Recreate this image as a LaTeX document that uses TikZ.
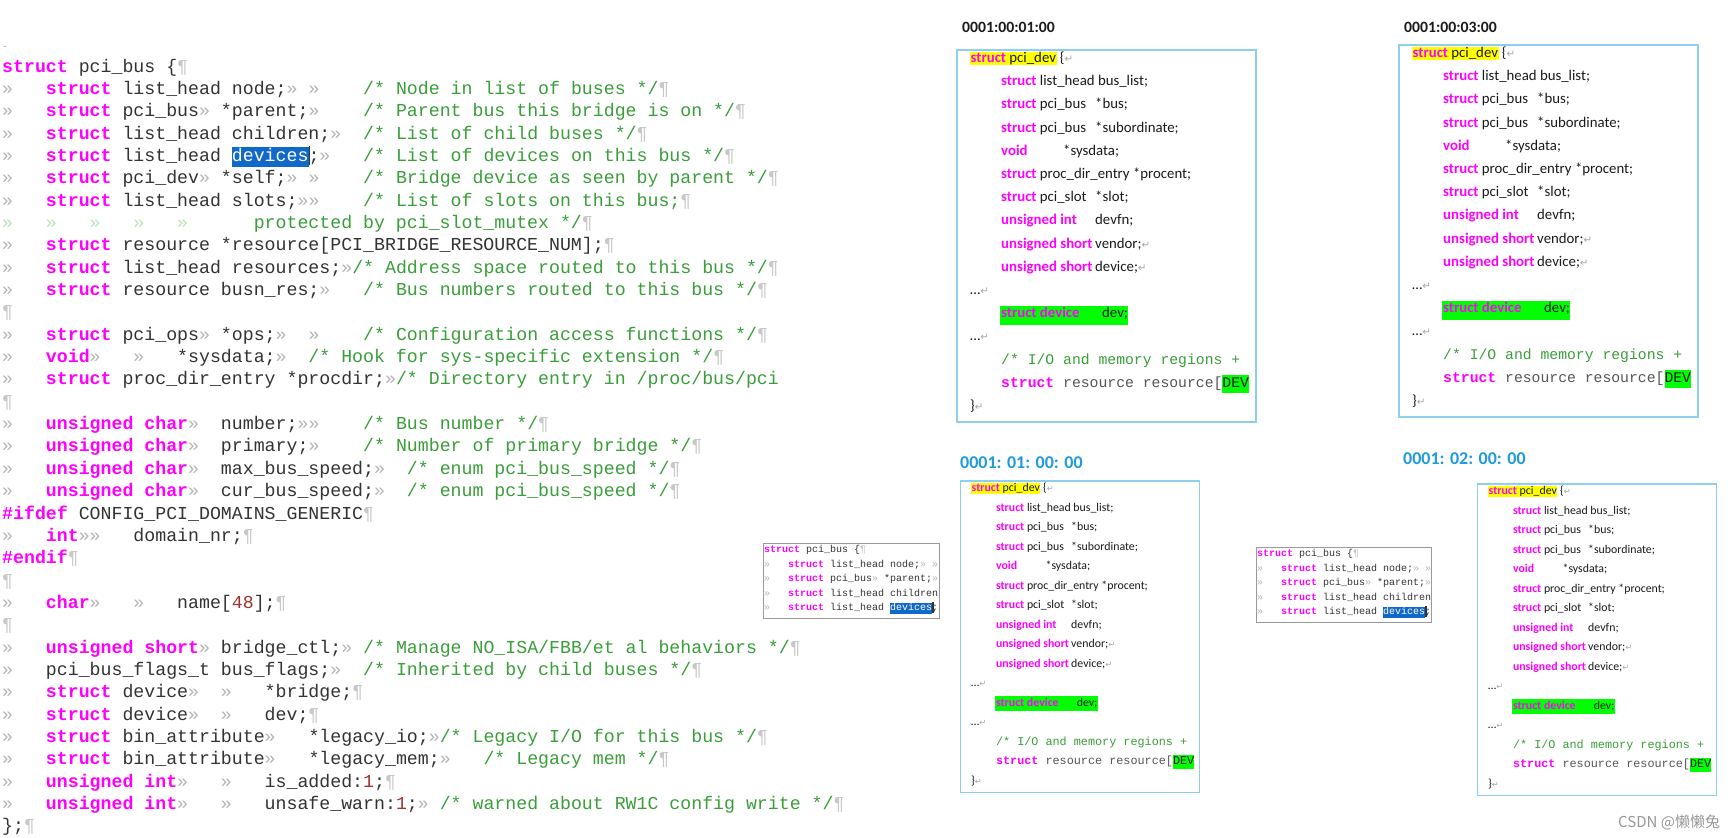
\documentclass[tikz,border=0pt]{standalone}
\usepackage{fontspec}
\setmainfont{Carlito}
\setmonofont{Liberation Mono}
\newfontfamily\cjk{Noto Sans CJK SC}
\newfontfamily\djv{DejaVu Sans}
\definecolor{kwc}{HTML}{FF00FF}
\definecolor{txt}{HTML}{333333}
\definecolor{cmc}{HTML}{3A9E3A}
\definecolor{tabc}{HTML}{B4B4B4}
\definecolor{pcc}{HTML}{C8C8C8}
\definecolor{ltab}{HTML}{B9E3B9}
\definecolor{selb}{HTML}{1068C8}
\definecolor{numc}{HTML}{A0322D}
\definecolor{boxb}{HTML}{8CD0F0}
\definecolor{sboxb}{HTML}{9A9A9A}
\definecolor{devg}{HTML}{00FF00}
\definecolor{hly}{HTML}{FFFF00}
\definecolor{lblue}{HTML}{1E9BDC}
\definecolor{retc}{HTML}{A8A8A8}
\definecolor{rsc}{HTML}{555555}
\definecolor{boxt}{HTML}{1A1A1A}
\newcommand\kw[1]{{\bfseries\color{kwc}#1}}
\newcommand\cm[1]{{\color{cmc}#1}}
\newcommand\tb{{\color{tabc}»}}
\newcommand\ltb{{\color{ltab}»}}
\newcommand\pc{{\color{pcc}¶}}
\newcommand\nm[1]{{\color{numc}#1}}
\newcommand\sps[1]{\hspace*{#1\dimexpr0.6em\relax}}
\newcommand\hlb[1]{{\setlength\fboxsep{0pt}\colorbox{selb}{\strut\color{white}#1}}\rlap{\rule[-0.22em]{1.5pt}{1.05em}}}
\newcommand\hly[1]{{\setlength\fboxsep{0.5pt}\colorbox{hly}{#1}}}
\newcommand\ret{{\djv\color{retc}\scalebox{0.7}{↵}}}
\newcommand\Lz{\kw{struct} pci\_bus \{\pc}
\newcommand\Lo{\tb\sps3\kw{struct} list\_head node;\tb\sps1\tb\sps4\cm{/* Node in list of buses */}\pc}
\newcommand\Lt{\tb\sps3\kw{struct} pci\_bus\tb\sps1*parent;\tb\sps4\cm{/* Parent bus this bridge is on */}\pc}
\newcommand\Lh{\tb\sps3\kw{struct} list\_head children;\tb\sps2\cm{/* List of child buses */}\pc}
\newcommand\Lf{\tb\sps3\kw{struct} list\_head \hlb{devices};\tb\sps3\cm{/* List of devices on this bus */}\pc}
\tikzset{
  codeline/.style={anchor=west, inner sep=0, text=txt, font=\fontsize{18.23}{20}\selectfont\ttfamily, text height=0.7em, text depth=0.2em},
  smline/.style={anchor=west, inner sep=0, text=txt, font=\fontsize{10}{11}\selectfont\ttfamily, text height=0.7em, text depth=0.2em},
  dl/.style={anchor=west, inner sep=0, text=boxt, font=\fontsize{\fs}{\fsb}\selectfont, text height=0.72em, text depth=0.22em},
  ml/.style={anchor=west, inner sep=0, text=boxt, font=\fontsize{\ms}{\msb}\selectfont\ttfamily, text height=0.72em, text depth=0.22em},
  boxline/.style={draw=boxb, line width=1.2pt},
  sbox/.style={draw=sboxb, line width=1pt},
  lbl/.style={anchor=west, inner sep=0, text=boxt, font=\fontsize{15.7}{18}\selectfont\bfseries},
  blbl/.style={anchor=west, inner sep=0, text=lblue, font=\fontsize{18}{21}\selectfont\bfseries},
}
\newcommand\cl[2]{\node[codeline] (cl#1) at (2,{69.5+22.35*#1}) {#2};}
\newcommand\pcidev[5]{%
  \pgfmathsetmacro\fs{14.8*#5}\pgfmathsetmacro\fsb{1.2*\fs}%
  \pgfmathsetmacro\ms{14.75*#5}\pgfmathsetmacro\msb{1.2*\ms}%
  \pgfmathsetmacro\xb{#2+31*#5}\pgfmathsetmacro\xc{#2+125*#5}%
  \pgfmathsetmacro\xd{#2+93*#5}\pgfmathsetmacro\xe{#2+132*#5}%
  \draw[boxline] ({#2-13*#5},{#3-10*#5}) rectangle ({#2+286*#5},{#3+15*#4+14*#5});
  \node[fill=devg, inner sep=0, minimum width={128*#5}, minimum height={19*#5}, anchor=west] (#1-g) at ({#2+30*#5},{#3+11*#4}) {};
  \node[dl] (#1-0) at (#2,{#3}) {\hly{\kw{struct} pci\_dev} \{\ret};
  \node[dl] (#1-1) at (\xb,{#3+#4}) {\kw{struct} list\_head bus\_list;};
  \node[dl] (#1-2) at (\xb,{#3+2*#4}) {\kw{struct} pci\_bus};
  \node[dl] (#1-2b) at (\xc,{#3+2*#4}) {*bus;};
  \node[dl] (#1-3) at (\xb,{#3+3*#4}) {\kw{struct} pci\_bus};
  \node[dl] (#1-3b) at (\xc,{#3+3*#4}) {*subordinate;};
  \node[dl] (#1-4) at (\xb,{#3+4*#4}) {\kw{void}};
  \node[dl] (#1-4b) at (\xd,{#3+4*#4}) {*sysdata;};
  \node[dl] (#1-5) at (\xb,{#3+5*#4}) {\kw{struct} proc\_dir\_entry *procent;};
  \node[dl] (#1-6) at (\xb,{#3+6*#4}) {\kw{struct} pci\_slot};
  \node[dl] (#1-6b) at (\xc,{#3+6*#4}) {*slot;};
  \node[dl] (#1-7) at (\xb,{#3+7*#4}) {\kw{unsigned int}};
  \node[dl] (#1-7b) at (\xc,{#3+7*#4}) {devfn;};
  \node[dl] (#1-8) at (\xb,{#3+8*#4}) {\kw{unsigned short}};
  \node[dl] (#1-8b) at (\xc,{#3+8*#4}) {vendor;\ret};
  \node[dl] (#1-9) at (\xb,{#3+9*#4}) {\kw{unsigned short}};
  \node[dl] (#1-9b) at (\xc,{#3+9*#4}) {device;\ret};
  \node[dl] (#1-10) at (#2,{#3+10*#4}) {…\ret};
  \node[dl] (#1-11) at (\xb,{#3+11*#4}) {\kw{struct device}};
  \node[dl] (#1-11b) at (\xe,{#3+11*#4}) {dev;};
  \node[dl] (#1-12) at (#2,{#3+12*#4}) {…\ret};
  \node[ml] (#1-13) at (\xb,{#3+13*#4}) {\cm{/* I/O and memory regions +}};
  \node[ml] (#1-14) at (\xb,{#3+14*#4}) {\kw{struct} {\color{rsc}resource resource[}{\setlength\fboxsep{0pt}\colorbox{devg}{\strut DEV}}};
  \node[dl] (#1-15) at (#2,{#3+15*#4}) {\}\ret};
}
\begin{document}
\begin{tikzpicture}[x=1pt,y=-1pt]
\useasboundingbox[fill=white] (0,0) rectangle (1733,838);
\node[anchor=west, inner sep=0, text=tabc, font=\fontsize{12}{12}\selectfont] (dash) at (3,49) {-};
\cl{0}{\Lz}
\cl{1}{\Lo}
\cl{2}{\Lt}
\cl{3}{\Lh}
\cl{4}{\Lf}
\cl{5}{\tb\sps3\kw{struct} pci\_dev\tb\sps1*self;\tb\sps1\tb\sps4\cm{/* Bridge device as seen by parent */}\pc}
\cl{6}{\tb\sps3\kw{struct} list\_head slots;\tb\tb\sps4\cm{/* List of slots on this bus;}\pc}
\cl{7}{\ltb\sps3\ltb\sps3\ltb\sps3\ltb\sps3\ltb\sps6\cm{protected by pci\_slot\_mutex */}\pc}
\cl{8}{\tb\sps3\kw{struct} resource *resource[PCI\_BRIDGE\_RESOURCE\_NUM];\pc}
\cl{9}{\tb\sps3\kw{struct} list\_head resources;\tb\cm{/* Address space routed to this bus */}\pc}
\cl{10}{\tb\sps3\kw{struct} resource busn\_res;\tb\sps3\cm{/* Bus numbers routed to this bus */}\pc}
\cl{11}{\pc}
\cl{12}{\tb\sps3\kw{struct} pci\_ops\tb\sps1*ops;\tb\sps2\tb\sps4\cm{/* Configuration access functions */}\pc}
\cl{13}{\tb\sps3\kw{void}\tb\sps3\tb\sps3*sysdata;\tb\sps2\cm{/* Hook for sys-specific extension */}\pc}
\cl{14}{\tb\sps3\kw{struct} proc\_dir\_entry *procdir;\tb\cm{/* Directory entry in /proc/bus/pci}}
\cl{15}{\pc}
\cl{16}{\tb\sps3\kw{unsigned char}\tb\sps2number;\tb\tb\sps4\cm{/* Bus number */}\pc}
\cl{17}{\tb\sps3\kw{unsigned char}\tb\sps2primary;\tb\sps4\cm{/* Number of primary bridge */}\pc}
\cl{18}{\tb\sps3\kw{unsigned char}\tb\sps2max\_bus\_speed;\tb\sps2\cm{/* enum pci\_bus\_speed */}\pc}
\cl{19}{\tb\sps3\kw{unsigned char}\tb\sps2cur\_bus\_speed;\tb\sps2\cm{/* enum pci\_bus\_speed */}\pc}
\cl{20}{\kw{\#ifdef} CONFIG\_PCI\_DOMAINS\_GENERIC\pc}
\cl{21}{\tb\sps3\kw{int}\tb\tb\sps3domain\_nr;\pc}
\cl{22}{\kw{\#endif}\pc}
\cl{23}{\pc}
\cl{24}{\tb\sps3\kw{char}\tb\sps3\tb\sps3name[\nm{48}];\pc}
\cl{25}{\pc}
\cl{26}{\tb\sps3\kw{unsigned short}\tb\sps1bridge\_ctl;\tb\sps1\cm{/* Manage NO\_ISA/FBB/et al behaviors */}\pc}
\cl{27}{\tb\sps3pci\_bus\_flags\_t bus\_flags;\tb\sps2\cm{/* Inherited by child buses */}\pc}
\cl{28}{\tb\sps3\kw{struct} device\tb\sps2\tb\sps3*bridge;\pc}
\cl{29}{\tb\sps3\kw{struct} device\tb\sps2\tb\sps3dev;\pc}
\cl{30}{\tb\sps3\kw{struct} bin\_attribute\tb\sps3*legacy\_io;\tb\cm{/* Legacy I/O for this bus */}\pc}
\cl{31}{\tb\sps3\kw{struct} bin\_attribute\tb\sps3*legacy\_mem;\tb\sps3\cm{/* Legacy mem */}\pc}
\cl{32}{\tb\sps3\kw{unsigned int}\tb\sps3\tb\sps3is\_added:\nm{1};\pc}
\cl{33}{\tb\sps3\kw{unsigned int}\tb\sps3\tb\sps3unsafe\_warn:\nm{1};\tb\sps1\cm{/* warned about RW1C config write */}\pc}
\cl{34}{\};\pc}
\begin{scope}
  \clip (763,543) rectangle (939,618);
  \node[smline] (sa0) at (764,550) {\Lz};
  \node[smline] (sa1) at (764,564.5) {\Lo};
  \node[smline] (sa2) at (764,579) {\Lt};
  \node[smline] (sa3) at (764,593.5) {\Lh};
  \node[smline] (sa4) at (764,608) {\Lf};
\end{scope}
\draw[sbox] (763,543) rectangle (939,618);
\begin{scope}
  \clip (1256,547) rectangle (1431,622);
  \node[smline] (sb0) at (1257,554) {\Lz};
  \node[smline] (sb1) at (1257,568.5) {\Lo};
  \node[smline] (sb2) at (1257,583) {\Lt};
  \node[smline] (sb3) at (1257,597.5) {\Lh};
  \node[smline] (sb4) at (1257,612) {\Lf};
\end{scope}
\draw[sbox] (1256,547) rectangle (1431,622);
\node[lbl] (lab1) at (962,27) {0001:00:01:00};
\node[lbl] (lab2) at (1404,27) {0001:00:03:00};
\node[blbl] (lab3) at (960,463) {0001: 01: 00: 00};
\node[blbl] (lab4) at (1403,459) {0001: 02: 00: 00};
\pcidev{da}{970}{60}{23.2}{1}
\pcidev{db}{1412}{55}{23.2}{1}
\pcidev{dc}{971}{489}{19.5}{0.8}
\pcidev{dd}{1488}{492}{19.5}{0.8}
\node[anchor=west, inner sep=0, text=gray!80, font=\fontsize{15}{18}\selectfont\cjk] (wm) at (1618,822) {CSDN @懒懒兔};
\end{tikzpicture}
\end{document}
